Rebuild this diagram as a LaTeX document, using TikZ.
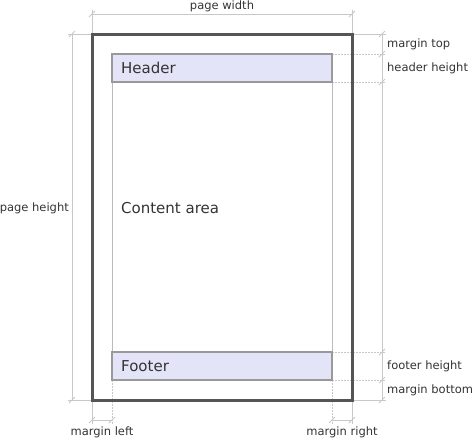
\documentclass[tikz,border=0pt]{standalone}
\usepackage{fontspec}
\setmainfont{DejaVu Sans}
\definecolor{dimc}{HTML}{C8C8C8}
\definecolor{pagec}{HTML}{555555}
\definecolor{boxfill}{HTML}{E4E4F8}
\definecolor{boxdraw}{HTML}{999999}
\definecolor{contc}{HTML}{BBBBBB}
\definecolor{txtc}{HTML}{333333}
\begin{document}
\begin{tikzpicture}[x=1pt,y=-1pt,
  dimline/.style={draw=dimc, line width=0.9pt},
  extline/.style={draw=dimc, line width=0.9pt},
  dotline/.style={draw=dimc, line width=0.9pt, dash pattern=on 1.5pt off 1.5pt},
  lbl/.style={font=\fontsize{11.5}{13}\selectfont, text=txtc, inner sep=0pt},
  big/.style={font=\fontsize{15}{18}\selectfont, text=txtc, inner sep=0pt},
  tickmark/.pic={\draw[dimline] (-3,3) -- (3,-3);},
  pagebox/.style={draw=pagec, line width=3pt, inner sep=0pt, outer sep=0pt, minimum width=260pt, minimum height=366pt},
  contbox/.style={draw=contc, line width=1pt, inner sep=0pt, outer sep=0pt, minimum width=220pt, minimum height=326pt},
  bandbox/.style={draw=boxdraw, fill=boxfill, line width=1.2pt, inner sep=0pt, outer sep=0pt, minimum width=220pt, minimum height=28pt}
]
\useasboundingbox (0,0) rectangle (474,440);

% dimension coordinates
\coordinate (wL) at (92,14);  \coordinate (wR) at (352,14);
\coordinate (wLe) at (92,10); \coordinate (wRe) at (352,10);
\coordinate (hT) at (72,34);  \coordinate (hB) at (72,400);
\coordinate (hTe) at (68,34); \coordinate (hBe) at (68,400);
\coordinate (r0) at (382,34);  \coordinate (r1) at (382,54);  \coordinate (r2) at (382,82);
\coordinate (r3) at (382,352); \coordinate (r4) at (382,380); \coordinate (r5) at (382,400);
\coordinate (r0e) at (386,34);  \coordinate (r1e) at (386,54);  \coordinate (r2e) at (386,82);
\coordinate (r3e) at (386,352); \coordinate (r4e) at (386,380); \coordinate (r5e) at (386,400);
\coordinate (b0) at (92,420);  \coordinate (b1) at (112,420); \coordinate (b2) at (332,420); \coordinate (b3) at (352,420);
\coordinate (b0e) at (92,424); \coordinate (b1e) at (112,424); \coordinate (b2e) at (332,424); \coordinate (b3e) at (352,424);

% boxes (invisible placement first for anchors)
\path node[pagebox, draw=none, anchor=north west] (page) at (92,34) {};
\path node[contbox, draw=none, anchor=north west] (content) at (112,54) {};
\path node[bandbox, draw=none, fill=none, anchor=north west] (header) at (112,54) {};
\path node[bandbox, draw=none, fill=none, anchor=north west] (footer) at (112,352) {};

% extension lines
\draw[extline] (page.north west) -- (wLe);
\draw[extline] (page.north east) -- (wRe);
\draw[extline] (page.north west) -- (hTe);
\draw[extline] (page.south west) -- (hBe);
\draw[extline] (page.north east) -- (r0e);
\draw[extline] (page.south east) -- (r5e);
\draw[extline] (page.south west) -- (b0e);
\draw[extline] (page.south east) -- (b3e);
\draw[dotline] (header.north east) -- (r1e);
\draw[dotline] (header.south east) -- (r2e);
\draw[dotline] (footer.north east) -- (r3e);
\draw[dotline] (footer.south east) -- (r4e);
\draw[dotline] (footer.south west) -- (b1e);
\draw[dotline] (footer.south east) -- (b2e);

% dimension lines
\draw[dimline] (wL) -- (wR);
\draw[dimline] (hT) -- (hB);
\draw[dimline] (r0) -- (r5);
\draw[dimline] (b0) -- (b1);
\draw[dimline] (b2) -- (b3);
\foreach \c in {wL,wR,hT,hB,r0,r1,r2,r3,r4,r5,b0,b1,b2,b3}
  \pic at (\c) {tickmark};

% visible boxes
\node[contbox, anchor=north west] (contentv) at (112,54) {};
\node[bandbox, anchor=north west] (headerv) at (112,54) {};
\node[bandbox, anchor=north west] (footerv) at (112,352) {};
\node[pagebox, anchor=north west] (pagev) at (92,34) {};

% texts
\node[big, anchor=west] (htext) at (121,68) {Header};
\node[big, anchor=west] (ftext) at (121,366) {Footer};
\node[big, anchor=west] (ctext) at (121,208) {Content area};

\node[lbl] (lw) at (222,6) {page width};
\node[lbl, anchor=east] (lh) at (69,208) {page height};
\node[lbl, anchor=west] (lmt) at (387,44) {margin top};
\node[lbl, anchor=west] (lhh) at (387,68) {header height};
\node[lbl, anchor=west] (lfh) at (387,366) {footer height};
\node[lbl, anchor=west] (lmb) at (387,390) {margin bottom};
\node[lbl] (lml) at (102,432) {margin left};
\node[lbl] (lmr) at (342,432) {margin right};
\end{tikzpicture}
\end{document}
